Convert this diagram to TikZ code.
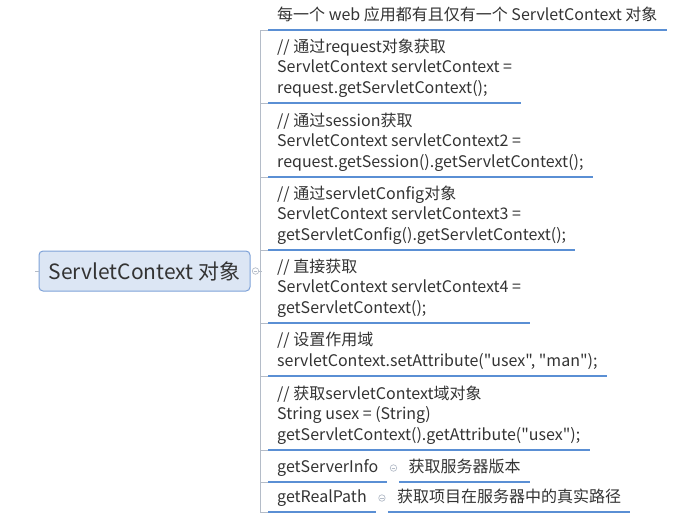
\documentclass[tikz,border=0pt]{standalone}
\usepackage{fontspec}
\setmainfont{Noto Sans CJK SC}[Ligatures=TeXOff]
\definecolor{ulblue}{HTML}{5A8FD4}
\definecolor{conngray}{HTML}{B4BCC8}
\definecolor{txtgray}{HTML}{333333}
\definecolor{rootfill}{HTML}{DCE6F4}
\definecolor{rootdraw}{HTML}{7EA2D8}
\tikzset{
  leaf/.style={anchor=south west, align=left, inner xsep=9pt, inner ysep=0pt, text depth=9.5pt, text=txtgray, font=\fontsize{16}{20.5}\selectfont},
  uline/.style={draw=ulblue, line width=1.6pt},
  conn/.style={draw=conngray, line width=0.9pt},
  dot/.style={circle, draw=conngray, line width=0.7pt, inner sep=0pt, minimum size=6.5pt, path picture={\draw[conngray, line width=0.6pt] (-1.8pt,0) -- (1.8pt,0);}}
}
\begin{document}
\begin{tikzpicture}[x=1pt,y=-1pt]
\useasboundingbox (0,0) rectangle (695,525);
\node[draw=rootdraw, fill=rootfill, line width=1pt, rounded corners=4pt, minimum width=211pt, minimum height=40pt, text=txtgray, font=\fontsize{21}{25}\selectfont] (root) at (144.5,271) {ServletContext 对象};
\node[dot] (c0) at ([xshift=5pt]root.east) {};
\node[leaf] (k1) at (268,30) {每一个 web 应用都有且仅有一个 ServletContext 对象};
\node[leaf] (k2) at (268,103) {// 通过request对象获取\\ServletContext servletContext =\\request.getServletContext();};
\node[leaf] (k3) at (268,177) {// 通过session获取\\ServletContext servletContext2 =\\request.getSession().getServletContext();};
\node[leaf] (k4) at (268,250) {// 通过servletConfig对象\\ServletContext servletContext3 =\\getServletConfig().getServletContext();};
\node[leaf] (k5) at (268,323) {// 直接获取\\ServletContext servletContext4 =\\getServletContext();};
\node[leaf] (k6) at (268,376) {// 设置作用域\\servletContext.setAttribute("usex", "man");};
\node[leaf] (k7) at (268,450) {// 获取servletContext域对象\\String usex = (String)\\getServletContext().getAttribute("usex");};
\node[leaf] (k8) at (268,482) {getServerInfo};
\node[leaf] (k9) at (268,512) {getRealPath};
\node[dot] (c8) at ([xshift=6pt,yshift=14pt]k8.south east) {};
\node[dot] (c9) at ([xshift=6pt,yshift=14pt]k9.south east) {};
\node[leaf] (d8) at ([xshift=12pt]k8.south east) {获取服务器版本};
\node[leaf] (d9) at ([xshift=12pt]k9.south east) {获取项目在服务器中的真实路径};
% connectors
\draw[conn] (root.west) -- ++(-4,0);
\draw[conn] (c0.east) -- ++(2.5,0);
\draw[conn] (k1.south west) -- ++(-8,0) |- (k9.south west);
\foreach \n in {k2,k3,k4,k5,k6,k7,k8}
  \draw[conn] (\n.south west) -- ++(-8,0);
% underlines
\foreach \n in {k1,k2,k3,k4,k5,k6,k7,k8,k9,d8,d9}
  \draw[uline] (\n.south west) -- (\n.south east);
\end{tikzpicture}
\end{document}
